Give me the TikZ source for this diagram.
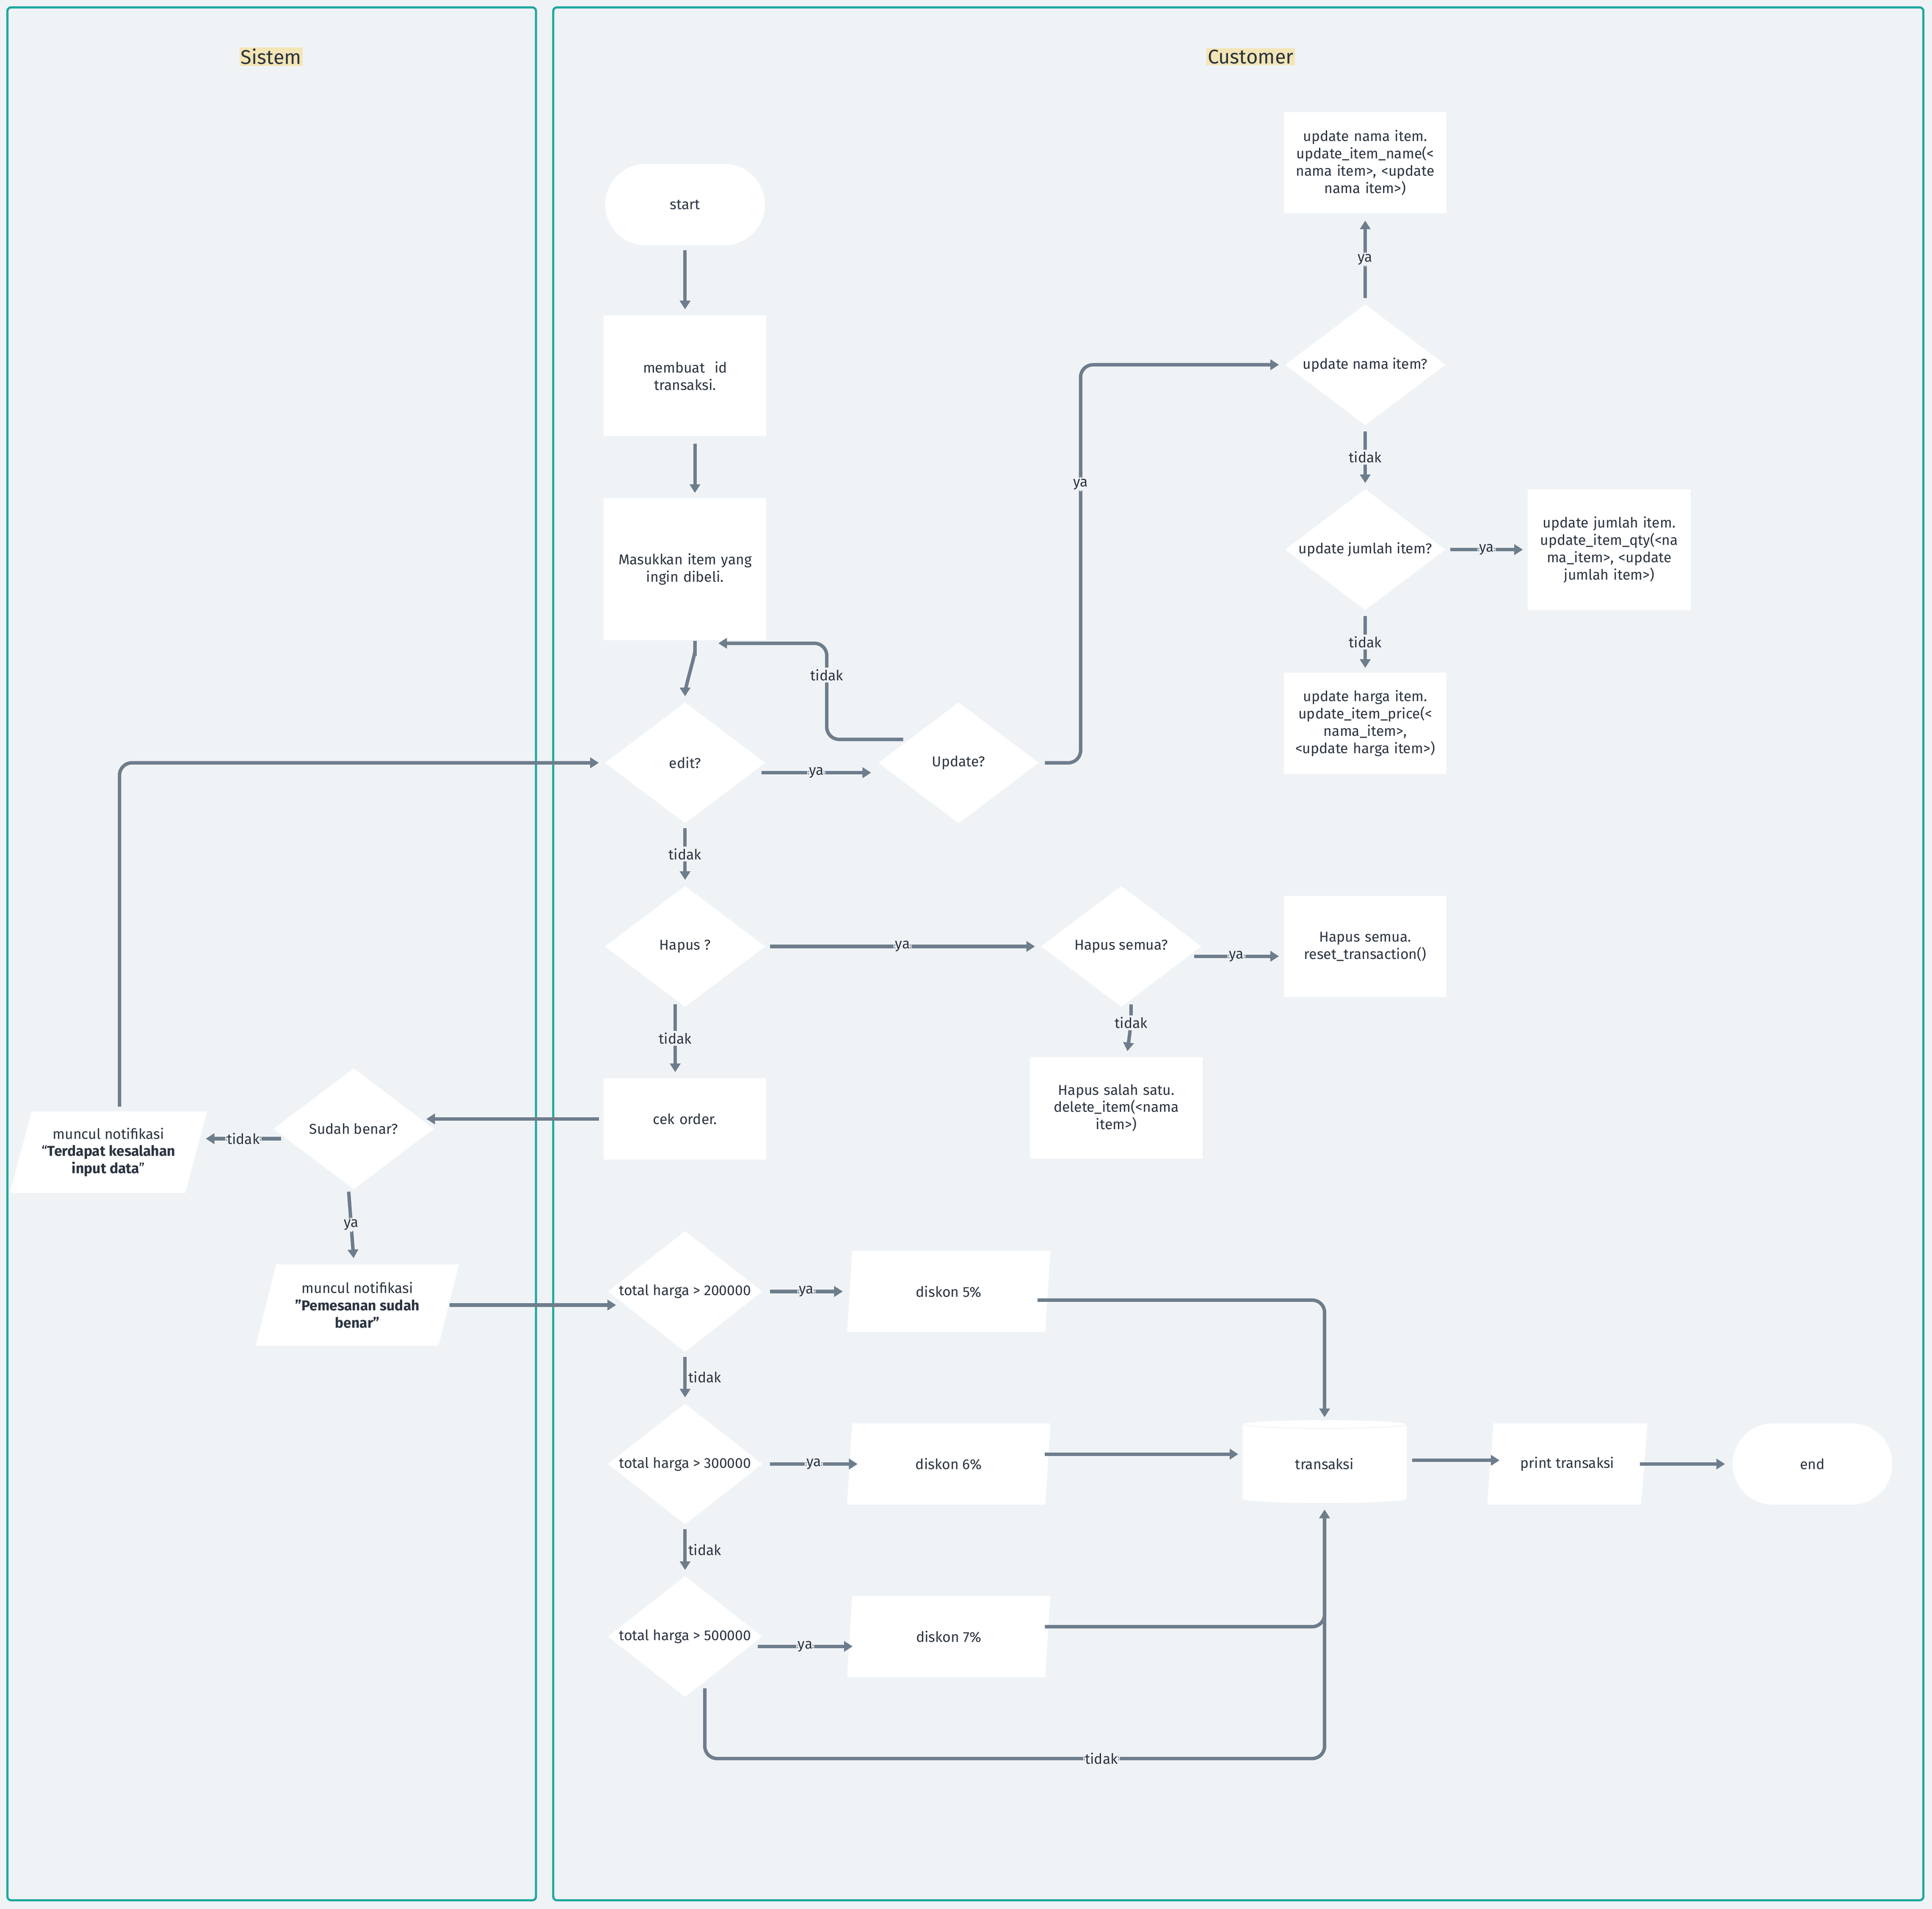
\documentclass[tikz,border=0pt]{standalone}
\usepackage{fontspec}
\setmainfont{Fira Sans}
\usetikzlibrary{shapes.geometric,shapes.misc,arrows.meta}
\definecolor{bg}{HTML}{F0F3F6}
\definecolor{lane}{HTML}{1EA89F}
\definecolor{ln}{HTML}{6E7D8C}
\definecolor{hl}{HTML}{F3E5B5}
\definecolor{tx}{HTML}{2B3440}
\begin{document}
\begin{tikzpicture}[x=1mm,y=-1mm,
  every node/.style={font=\fontsize{33}{40}\selectfont,text=tx,align=center},
  box/.style={draw=none,fill=white,minimum width=132mm,minimum height=#1,inner sep=0,text width=124mm},
  dia/.style={diamond,fill=white,minimum width=130mm,minimum height=98mm,inner sep=0},
  par/.style={trapezium,trapezium left angle=66,trapezium right angle=114,fill=white,minimum width=#1,minimum height=66mm,inner sep=0,trapezium stretches body},
  stad/.style={rounded rectangle,fill=white,minimum width=132mm,minimum height=66mm},
  ar/.style={draw=ln,line width=8pt,-{Triangle[length=20pt,width=24pt]},rounded corners=10mm},
  lab/.style={fill=bg,inner sep=4pt,text=tx}]
\fill[bg] (0,0) rectangle (1568,1549);
\useasboundingbox (0,0) rectangle (1568,1549);
\draw[lane,line width=5pt,rounded corners=3mm] (6,6) rectangle (435,1542);
\draw[lane,line width=5pt,rounded corners=3mm] (449,6) rectangle (1561,1542);
\node[fill=hl,inner sep=3pt,font=\fontsize{46}{54}\selectfont] (t1) at (220,46) {Sistem};
\node[fill=hl,inner sep=3pt,font=\fontsize{46}{54}\selectfont] (t2) at (1015,46) {Customer};

\node[stad] (start) at (556,166) {start};
\node[box=98mm] (buat) at (556,305) {membuat \ id\\transaksi.};
\node[box=115mm] (masuk) at (556,462) {Masukkan item yang\\ingin dibeli.};
\node[dia,label=center:{edit?}] (edit) at (556,619) {};
\node[dia,label=center:{Update?}] (upd) at (778,619) {};
\node[dia,label=center:{update nama item?}] (unama) at (1108,296) {};
\node[box=82mm] (rnama) at (1108,132) {update nama item.\\update\_item\_name(<\\nama item>, <update\\nama item>)};
\node[dia,label=center:{update jumlah item?}] (ujml) at (1108,446) {};
\node[box=98mm] (rjml) at (1306,446) {update jumlah item.\\update\_item\_qty(<na\\ma\_item>, <update\\jumlah item>)};
\node[box=82mm] (rharga) at (1108,587) {update harga item.\\update\_item\_price(<\\nama\_item>,\\<update harga item>)};
\node[dia,label=center:{Hapus ?}] (hapus) at (556,768) {};
\node[dia,label=center:{Hapus semua?}] (hsemua) at (910,768) {};
\node[box=82mm] (rsemua) at (1108,768) {Hapus semua.\\reset\_transaction()};
\node[box=82mm,minimum width=140mm] (rsatu) at (906,899) {Hapus salah satu.\\delete\_item(<nama\\item>)};
\node[box=66mm] (cek) at (556,908) {cek order.};
\node[dia,label=center:{Sudah benar?}] (sudah) at (287,916) {};
\node[par=160mm] (nsalah) at (88,935) {muncul notifikasi\\“\textbf{Terdapat kesalahan}\\\textbf{input data}”};
\node[par=165mm] (nbenar) at (290,1059) {muncul notifikasi\\\textbf{"Pemesanan sudah}\\\textbf{benar"}};
\node[dia,minimum width=125mm,label=center:{total harga > 200000}] (t200) at (556,1048) {};
\node[dia,minimum width=125mm,label=center:{total harga > 300000}] (t300) at (556,1188) {};
\node[dia,minimum width=125mm,label=center:{total harga > 500000}] (t500) at (556,1328) {};
\node[par=165mm] (d5) at (770,1048) {diskon 5\%};
\node[par=165mm] (d6) at (770,1188) {diskon 6\%};
\node[par=165mm] (d7) at (770,1328) {diskon 7\%};
\node[cylinder,shape border rotate=90,aspect=0.15,fill=white,draw=bg,line width=2pt,minimum width=134mm,minimum height=68mm,inner sep=0] (trx) at (1075,1188) {transaksi};
\node[par=130mm] (print) at (1272,1188) {print transaksi};
\node[stad] (end) at (1471,1188) {end};

\draw[ar] (556,203) -- (556,251);
\draw[ar] (564,360) -- (564,400);
\draw[ar] (564,520) -- (564,538) to[out=90,in=-90] (556,552) -- (556,565);
\draw[ar] (618,627) -- node[lab]{ya} (707,627);
\draw[ar] (733,600) -- (671,600) -- node[lab,pos=0.67]{tidak} (671,522) -- (583,522);
\draw[ar] (848,619) -- (877,619) -- node[lab,pos=0.7]{ya} (877,296) -- (1038,296);
\draw[ar] (1108,242) -- node[lab]{ya} (1108,179);
\draw[ar] (1108,350) -- node[lab]{tidak} (1108,392);
\draw[ar] (1177,446) -- node[lab]{ya} (1236,446);
\draw[ar] (1108,500) -- node[lab]{tidak} (1108,542);
\draw[ar] (556,672) -- node[lab]{tidak} (556,714);
\draw[ar] (625,768) -- node[lab]{ya} (840,768);
\draw[ar] (969,776) -- node[lab]{ya} (1038,776);
\draw[ar] (918,815) -- (918,830) node[lab]{tidak} -- (915,853);
\draw[ar] (548,815) -- node[lab]{tidak} (548,870);
\draw[ar] (486,908) -- (346,908);
\draw[ar] (228,924) -- node[lab]{tidak} (167,924);
\draw[ar] (97,898) -- (97,619) -- (486,619);
\draw[ar] (283,967) -- node[lab]{ya} (287,1021);
\draw[ar] (365,1059) -- (500,1059);
\draw[ar] (625,1048) -- node[lab]{ya} (684,1048);
\draw[ar] (556,1101) -- node[lab,right]{tidak} (556,1134);
\draw[ar] (625,1188) -- node[lab]{ya} (696,1188);
\draw[ar] (556,1241) -- node[lab,right]{tidak} (556,1274);
\draw[ar] (615,1336) -- node[lab]{ya} (692,1336);
\draw[ar] (842,1055) -- (1075,1055) -- (1075,1150);
\draw[ar] (848,1180) -- (1005,1180);
\draw[ar] (848,1320) -- (1075,1320) -- (1075,1225);
\draw[ar] (572,1370) -- (572,1427) -- node[lab,pos=0.64]{tidak} (1075,1427) -- (1075,1225);
\draw[ar] (1146,1185) -- (1217,1185);
\draw[ar] (1331,1188) -- (1400,1188);
\end{tikzpicture}
\end{document}
